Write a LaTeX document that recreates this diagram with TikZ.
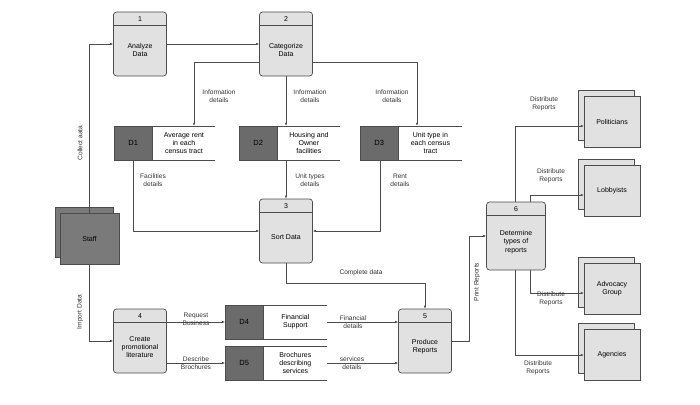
\documentclass[tikz,border=0pt]{standalone}
\usepackage{fontspec}
\setmainfont{Liberation Sans}
\usetikzlibrary{arrows.meta}
\definecolor{procfill}{HTML}{E1E1E1}
\definecolor{storefill}{HTML}{6B6B6B}
\begin{document}
\begin{tikzpicture}[x=1pt,y=-1pt,
  proc/.style={draw=black!70,fill=procfill,rounded corners=3pt,minimum width=53pt,minimum height=64pt,inner sep=0pt,line width=0.7pt},
  ext/.style={draw=black!70,fill=procfill,minimum width=56pt,minimum height=51pt,inner sep=0pt,font=\fontsize{7}{8}\selectfont},
  store/.style={draw=black!70,fill=storefill,minimum width=38pt,minimum height=34pt,inner sep=0pt,font=\fontsize{7.5}{8.5}\selectfont},
  txt/.style={font=\fontsize{7}{8.2}\selectfont,align=center,inner sep=1pt},
  lbl/.style={font=\fontsize{6.6}{7.6}\selectfont,align=center,text=black!80,inner sep=1pt},
  flow/.style={draw=black!70,line width=0.5pt,-{Latex[length=3pt,width=2.4pt]}},
  sline/.style={draw=black!70,line width=0.5pt}]
\useasboundingbox (0,0) rectangle (700,404);

% processes
\foreach \n/\x/\y/\w/\h in {p1/140/44/53/64,p2/286/44/53/64,p3/286/231/53/64,p4/140/341/53/64,p5/425/341/53/64,p6/516/236/59/68}{
  \node[proc,minimum width=\w pt,minimum height=\h pt] (\n) at (\x,\y) {};
  \draw[black!70,line width=0.7pt] ([yshift=-14pt]\n.north west) -- ([yshift=-14pt]\n.north east);
}
\node[txt] at ([yshift=-7pt]p1.north) {1};
\node[txt] at ([yshift=-7pt]p2.north) {2};
\node[txt] at ([yshift=-7pt]p3.north) {3};
\node[txt] at ([yshift=-7pt]p4.north) {4};
\node[txt] at ([yshift=-7pt]p5.north) {5};
\node[txt] at ([yshift=-7pt]p6.north) {6};
\node[txt] at ([yshift=-6pt]p1.center) {Analyze\\Data};
\node[txt] at ([yshift=-6pt]p2.center) {Categorize\\Data};
\node[txt] at ([yshift=-6pt]p3.center) {Sort Data};
\node[txt] at ([yshift=-6pt]p4.center) {Create\\promotional\\literature};
\node[txt] at ([yshift=-6pt]p5.center) {Produce\\Reports};
\node[txt] at ([yshift=-6pt]p6.center) {Determine\\types of\\reports};

% external entities
\draw[black!70,fill=storefill!90] (55,207) rectangle (113,257);
\node[ext,fill=storefill!90,minimum width=59pt,minimum height=51pt] (staff) at (89.5,238.5) {Staff};
\foreach \n/\y/\t in {pol/122/Politicians,lob/191/Lobbyists,adv/289/Advocacy\\Group,agn/355/Agencies}{
  \draw[black!70,fill=procfill] (578,\y-32) rectangle (634,\y+18);
  \node[ext,align=center] (\n) at (612,\y) {\t};
}

% data stores
\foreach \n/\x/\y/\w/\t in {d1/114/143/101/Average rent\\in each\\census tract,d2/239/143/101/Housing and\\Owner\\facilities,d3/360/143/102/Unit type in\\each census\\tract,d4/225/322/102/Financial\\Support,d5/225/363/102/Brochures\\describing\\services}{
  \node[store,anchor=west] (\n) at (\x,\y) {\MakeUppercase{\n}};
  \draw[sline] (\n.north west) -- ++(\w,0);
  \draw[sline] (\n.south west) -- ++(\w,0);
  \node[txt] at ([xshift={(\w-38)/2}]\n.east) {\t};
}

% flows
\draw[flow] (staff.north) |- (p1.west);
\node[lbl,rotate=90] at (80,143) {Collect aata};
\draw[flow] (p1.east) -- (p2.west);
\draw[flow] ([yshift=-18pt]p2.west) -| ([xshift=80pt]d1.north west);
\node[lbl] at (219,96) {Information\\details};
\draw[flow] (p2.south) -- (p2.south |- d2.north);
\node[lbl] at (310,96) {Information\\details};
\draw[flow] ([yshift=-18pt]p2.east) -| ([xshift=57pt]d3.north west);
\node[lbl] at (392,96) {Information\\details};
\draw[flow] ([xshift=19pt]d1.south west) |- (p3.west);
\node[lbl] at (153,180) {Facilities\\details};
\draw[flow] (p3.north |- d2.south) -- (p3.north);
\node[lbl] at (310,180) {Unit types\\details};
\draw[flow] ([xshift=20pt]d3.south west) |- (p3.east);
\node[lbl] at (400,180) {Rent\\details};
\coordinate (c3) at (286,283);
\draw[flow] (p3.south) -- (c3) -| (p5.north);
\node[lbl] at (361,273) {Complete data};
\draw[flow] (staff.south) |- (p4.west);
\node[lbl,rotate=90] at (80,312) {Import Data};
\draw[flow] (p4.east |- d4.west) -- (d4.west);
\node[lbl] at (196,319) {Request\\Business};
\draw[flow] (p4.east |- d5.west) -- (d5.west);
\node[lbl] at (196,363) {Describe\\Brochures};
\draw[flow] ([xshift=102pt]d4.west) -- (p5.west |- d4.west);
\node[lbl] at (353,322) {Financial\\details};
\draw[flow] ([xshift=102pt]d5.west) -- (p5.west |- d5.west);
\node[lbl] at (352,363) {services\\details};
\coordinate (c5) at (469,341);
\draw[flow] (p5.east) -- (c5) |- (p6.west);
\node[lbl,rotate=90] at (477,282) {Print Reports};
\draw[flow] ([xshift=-1pt]p6.north) |- ([yshift=-4pt]pol.west);
\node[lbl] at (544,104) {Distribute\\Reports};
\draw[flow] ([xshift=14pt]p6.north) |- ([yshift=-4pt]lob.west);
\node[lbl] at (551,176) {Distribute\\Reports};
\draw[flow] ([xshift=14pt]p6.south) |- ([yshift=-4pt]adv.west);
\node[lbl] at (551,299) {Distribute\\Reports};
\draw[flow] ([xshift=-1pt]p6.south) |- (agn.west);
\node[lbl] at (538,368) {Distribute\\Reports};
\end{tikzpicture}
\end{document}
